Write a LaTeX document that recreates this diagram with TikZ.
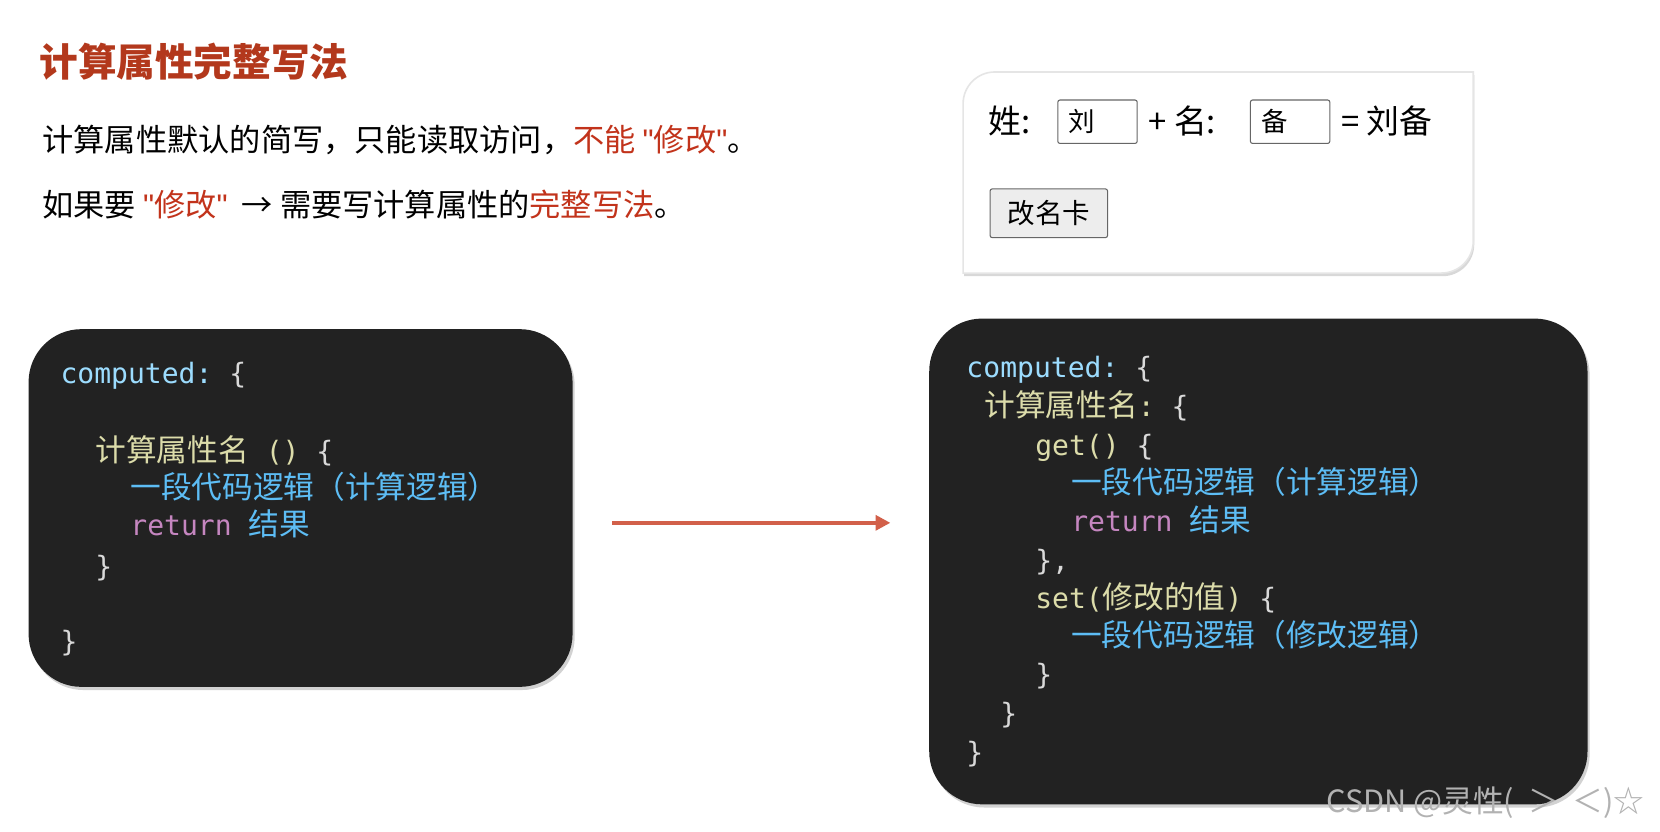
\documentclass[tikz,border=0pt]{standalone}
\usepackage{fontspec}
\setmainfont{Noto Sans CJK SC}
\setmonofont{DejaVu Sans Mono}
\newfontfamily\cjk{Noto Sans CJK SC}
\newfontfamily\lat{Liberation Sans}
\usetikzlibrary{shadows,arrows.meta}
\definecolor{ttl}{HTML}{B3381C}
\definecolor{hot}{HTML}{C2331B}
\definecolor{panel}{HTML}{222222}
\definecolor{cblue}{HTML}{9CDCFE}
\definecolor{cyel}{HTML}{DCDCAA}
\definecolor{cbl2}{HTML}{5DBDF5}
\definecolor{cpink}{HTML}{C586C0}
\definecolor{arr}{HTML}{D2604A}
\newcommand{\cc}[1]{{\cjk\fontsize{29}{30}\selectfont #1}}
\newcommand{\qq}{{\lat\char"22}}
\tikzset{
  codebox/.style={fill=panel,rounded corners=50pt,drop shadow={opacity=0.35,shadow xshift=2pt,shadow yshift=-3pt}},
  code/.style={anchor=base west,inner sep=0pt,font=\ttfamily\fontsize{26.5}{30}\selectfont},
  txt/.style={anchor=base west,inner sep=0pt,font=\fontsize{29.5}{32}\selectfont},
  inbox/.style={draw=black!60,rounded corners=2pt,line width=1pt,minimum width=75pt,minimum height=41pt,inner sep=0pt,anchor=north west,font=\fontsize{25}{28}\selectfont,text width=62pt}
}
\begin{document}
\begin{tikzpicture}[x=1pt,y=-1pt]
\useasboundingbox (0,0) rectangle (1568.5,785.2);
\fill[white] (0,0) rectangle (1568.5,785.2);
% title and text
\node[txt,font=\bfseries\fontsize{36.5}{40}\selectfont,text=ttl] (title) at (37,72) {计算属性完整写法};
\node[txt] (l1) at (40,143) {计算属性默认的简写，只能读取访问，\textcolor{hot}{不能 \qq 修改\qq}。};
\node[txt] (l2) at (40,205) {如果要 \textcolor{hot}{\qq 修改\qq} \ → 需要写计算属性的\textcolor{hot}{完整写法}。};
% white demo panel
\path[fill=white,draw=black!10,line width=1.5pt,drop shadow={opacity=0.3,shadow xshift=1pt,shadow yshift=-3pt}]
  (910,258) [rounded corners=30pt] -- (910,68) [sharp corners] -- (1392,68)
  [rounded corners=30pt] -- (1392,258) [sharp corners] -- cycle;
\node[txt,font=\fontsize{31}{34}\selectfont] (xing) at (934,126) {姓:};
\node[inbox] (in1) at (999,94) {\hspace*{4pt}刘};
\node[txt,font=\fontsize{31}{34}\selectfont] (ming) at (1085,126) {+ 名:};
\node[inbox] (in2) at (1181,94) {\hspace*{4pt}备};
\node[txt,font=\fontsize{31}{34}\selectfont] (res) at (1267,126) {= 刘备};
\node[draw=black!60,fill=black!7,rounded corners=2pt,line width=1pt,minimum width=111pt,minimum height=46pt,anchor=north west,inner sep=0pt,font=\fontsize{26}{28}\selectfont] (btn) at (935,178) {改名卡};
% left code panel
\path[codebox] (27,311) rectangle (541,649);
\node[code,text=cblue] (a1) at (57,362) {computed: \textcolor{white!85!black}{\{}};
\node[code,text=cyel] (a2) at (90,436) {\cc{计算属性名} () \textcolor{white!85!black}{\{}};
\node[code,text=cbl2] (a3) at (123,471) {\cc{一段代码逻辑（计算逻辑）}};
\node[code,text=cpink] (a4) at (123,506) {return \textcolor{cbl2}{\cc{结果}}};
\node[code,text=white!85!black] (a5) at (90,545) {\}};
\node[code,text=white!85!black] (a6) at (57,616) {\}};
% arrow
\node[inner sep=0pt] (p1) at (578,494) {};
\node[inner sep=0pt] (p2) at (842,494) {};
\draw[arr,line width=4pt,-{Triangle[length=14pt,width=14pt]}] (p1) -- (p2);
% right code panel
\path[codebox] (878,301) rectangle (1500,760);
\node[code,text=cblue] (b1) at (913,357) {computed: \textcolor{white!85!black}{\{}};
\node[code,text=cyel] (b2) at (930,394) {\cc{计算属性名}: \textcolor{white!85!black}{\{}};
\node[code,text=cyel] (b3) at (978,430) {get() \textcolor{white!85!black}{\{}};
\node[code,text=cbl2] (b4) at (1012,466) {\cc{一段代码逻辑（计算逻辑）}};
\node[code,text=cpink] (b5) at (1012,502) {return \textcolor{cbl2}{\cc{结果}}};
\node[code,text=white!85!black] (b6) at (978,539) {\},};
\node[code,text=cyel] (b7) at (978,575) {set(\cc{修改的值}) \textcolor{white!85!black}{\{}};
\node[code,text=cbl2] (b8) at (1012,611) {\cc{一段代码逻辑（修改逻辑）}};
\node[code,text=white!85!black] (b9) at (978,647) {\}};
\node[code,text=white!85!black] (b10) at (945,684) {\}};
\node[code,text=white!85!black] (b11) at (913,720) {\}};
% watermark
\node[anchor=base west,inner sep=0pt,text=black!30,font=\fontsize{29}{30}\selectfont] (wm) at (1253,768) {CSDN @灵性(\ \ ＞\ \ ＜)☆};
\end{tikzpicture}
\end{document}
